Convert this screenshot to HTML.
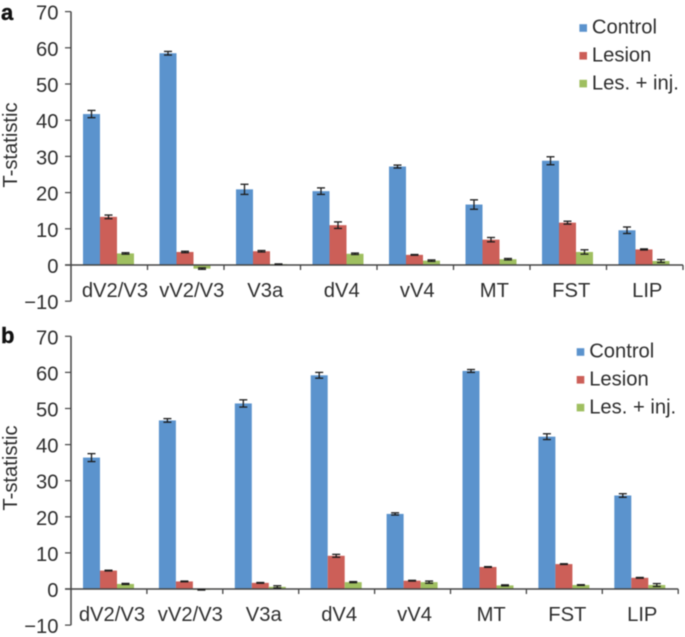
<!DOCTYPE html>
<html lang="en">
<head>
<meta charset="utf-8">
<title>T-statistic by visual area</title>
<style>
html,body{margin:0;padding:0;background:#fff;}
svg{display:block;filter:blur(0.4px);}
text{font-family:"Liberation Sans",sans-serif;font-size:20.2px;fill:#2e2e2e;}
</style>
</head>
<body>
<svg id="figure" width="685" height="637" viewBox="0 0 685 637" xmlns="http://www.w3.org/2000/svg"></svg>
<script>
const categories = ["dV2/V3", "vV2/V3", "V3a", "dV4", "vV4", "MT", "FST", "LIP"];
const seriesNames = ["Control", "Lesion", "Les. + inj."];
const yTickValues = [70, 60, 50, 40, 30, 20, 10, 0, -10];

const controlA = [41.7, 58.5, 20.9, 20.4, 27.2, 16.7, 28.8, 9.6];
const lesionA = [13.3, 3.6, 3.8, 11.0, 2.8, 7.0, 11.7, 4.3];
const injA = [3.2, -1.0, 0.2, 3.1, 1.2, 1.6, 3.6, 1.1];
const controlErrA = [1.0, 0.5, 1.4, 0.9, 0.4, 1.3, 1.1, 0.9];
const lesionErrA = [0.5, 0.2, 0.2, 0.9, 0.1, 0.6, 0.4, 0.15];
const injErrA = [0.2, 0.2, 0.1, 0.2, 0.2, 0.2, 0.6, 0.4];

const controlB = [36.4, 46.7, 51.4, 59.2, 20.8, 60.4, 42.2, 25.9];
const lesionB = [5.1, 2.1, 1.7, 9.2, 2.3, 6.1, 6.9, 3.1];
const injB = [1.4, -0.2, 0.6, 1.9, 1.9, 1.0, 1.1, 1.1];
const controlErrB = [1.1, 0.5, 1.0, 0.8, 0.3, 0.4, 0.8, 0.5];
const lesionErrB = [0.1, 0.1, 0.1, 0.4, 0.1, 0.1, 0.1, 0.1];
const injErrB = [0.15, 0.1, 0.3, 0.15, 0.3, 0.15, 0.1, 0.4];

const colors = ["#5b93cd", "#cc5f58", "#9fbf60"];
const svgNS = "http://www.w3.org/2000/svg";
const root = document.getElementById("figure");

function make(parent, tag, props, text) {
  const el = document.createElementNS(svgNS, tag);
  for (const k in props) el.setAttribute(k, props[k]);
  if (text !== undefined) el.textContent = text;
  parent.appendChild(el);
  return el;
}

function drawPanel(p) {
  const panel = make(root, "g", {});
  
  

  const y = v => p.y0 - v * p.unit;
  const bandLeft = i => p.axisX + i * p.band;
  const barW = 17;
  const barX = (i, s) => bandLeft(i) + 12 + s * barW;

  const letter = make(panel, "text", {x: 1, y: p.letterY, "font-weight": "bold", style: "font-size:22px;fill:#111;stroke:#111;stroke-width:0.4px"}, p.letter);
  
  

  const title = make(panel, "text", {x: 0, y: 0, "text-anchor": "middle", transform: "translate(17 " + p.titleY + ") rotate(-90)"}, "T-statistic");
  
  

  p.series.forEach((vals, s) => {
    vals.forEach((v, i) => {
      const top = Math.min(y(v), y(0));
      const h = Math.abs(y(v) - y(0));
      const bar = make(panel, "rect", {x: barX(i, s), y: top, width: barW, height: h, fill: colors[s]});
      
      
    });
  });

  const yAxis = make(panel, "line", {x1: p.axisX, x2: p.axisX, y1: y(70), y2: y(-10), stroke: "#444", "stroke-width": 1.5});
  
  

  yTickValues.forEach(t => {
    const tick = make(panel, "line", {x1: p.axisX - 6, x2: p.axisX, y1: y(t), y2: y(t), stroke: "#444", "stroke-width": 1.2});
    
    
    const label = make(panel, "text", {x: 58.5, y: y(t) + 8, "text-anchor": "end"}, t < 0 ? "\u2212" + Math.abs(t) : String(t));
    
    
  });

  const xAxis = make(panel, "line", {x1: p.axisX - 6, x2: bandLeft(categories.length), y1: y(0), y2: y(0), stroke: "#444", "stroke-width": 1.4});
  
  

  categories.forEach((c, i) => {
    const tick = make(panel, "line", {x1: bandLeft(i + 1), x2: bandLeft(i + 1), y1: y(0), y2: y(0) + 5, stroke: "#444", "stroke-width": 1.3});
    
    
    const label = make(panel, "text", {x: bandLeft(i) + p.band / 2 + p.nudge[i], y: y(0) + 32, "text-anchor": "middle"}, c);
    
    
  });

  p.series.forEach((vals, s) => {
    vals.forEach((v, i) => {
      const e = p.errors[s][i];
      const cx = barX(i, s) + barW / 2;
      const g = make(panel, "g", {stroke: "#1c1c1c", "stroke-width": 1.3, fill: "none"});
      
      
      make(g, "line", {x1: cx, x2: cx, y1: y(v + e), y2: y(v - e)});
      make(g, "line", {x1: cx - 4, x2: cx + 4, y1: y(v + e), y2: y(v + e)});
      make(g, "line", {x1: cx - 4, x2: cx + 4, y1: y(v - e), y2: y(v - e)});
    });
  });

  seriesNames.forEach((n, s) => {
    const cy = p.legendY + s * 27.8;
    const sw = make(panel, "rect", {x: p.legendX, y: cy - 3.8, width: 7.6, height: 7.6, fill: colors[s]});
    
    
    const tx = make(panel, "text", {x: p.legendX + 12.5, y: cy + 5.7}, n);
    
    
  });
}

drawPanel({
  letter: "a", axisX: 71, band: 76.5, y0: 265, unit: 3.62,
  letterY: 20, titleY: 145, legendX: 579.4, legendY: 28,
  nudge: [5.7, 6, 3, 3, 2, 2.6, 3, 2.5],
  series: [controlA, lesionA, injA],
  errors: [controlErrA, lesionErrA, injErrA]
});
drawPanel({
  letter: "b", axisX: 71, band: 75.9, y0: 589, unit: 3.61,
  letterY: 343, titleY: 468, legendX: 576.7, legendY: 352,
  nudge: [3, 5.5, 3, 2.5, 2, 2.7, 3, 2],
  series: [controlB, lesionB, injB],
  errors: [controlErrB, lesionErrB, injErrB]
});
</script>
</body>
</html>
